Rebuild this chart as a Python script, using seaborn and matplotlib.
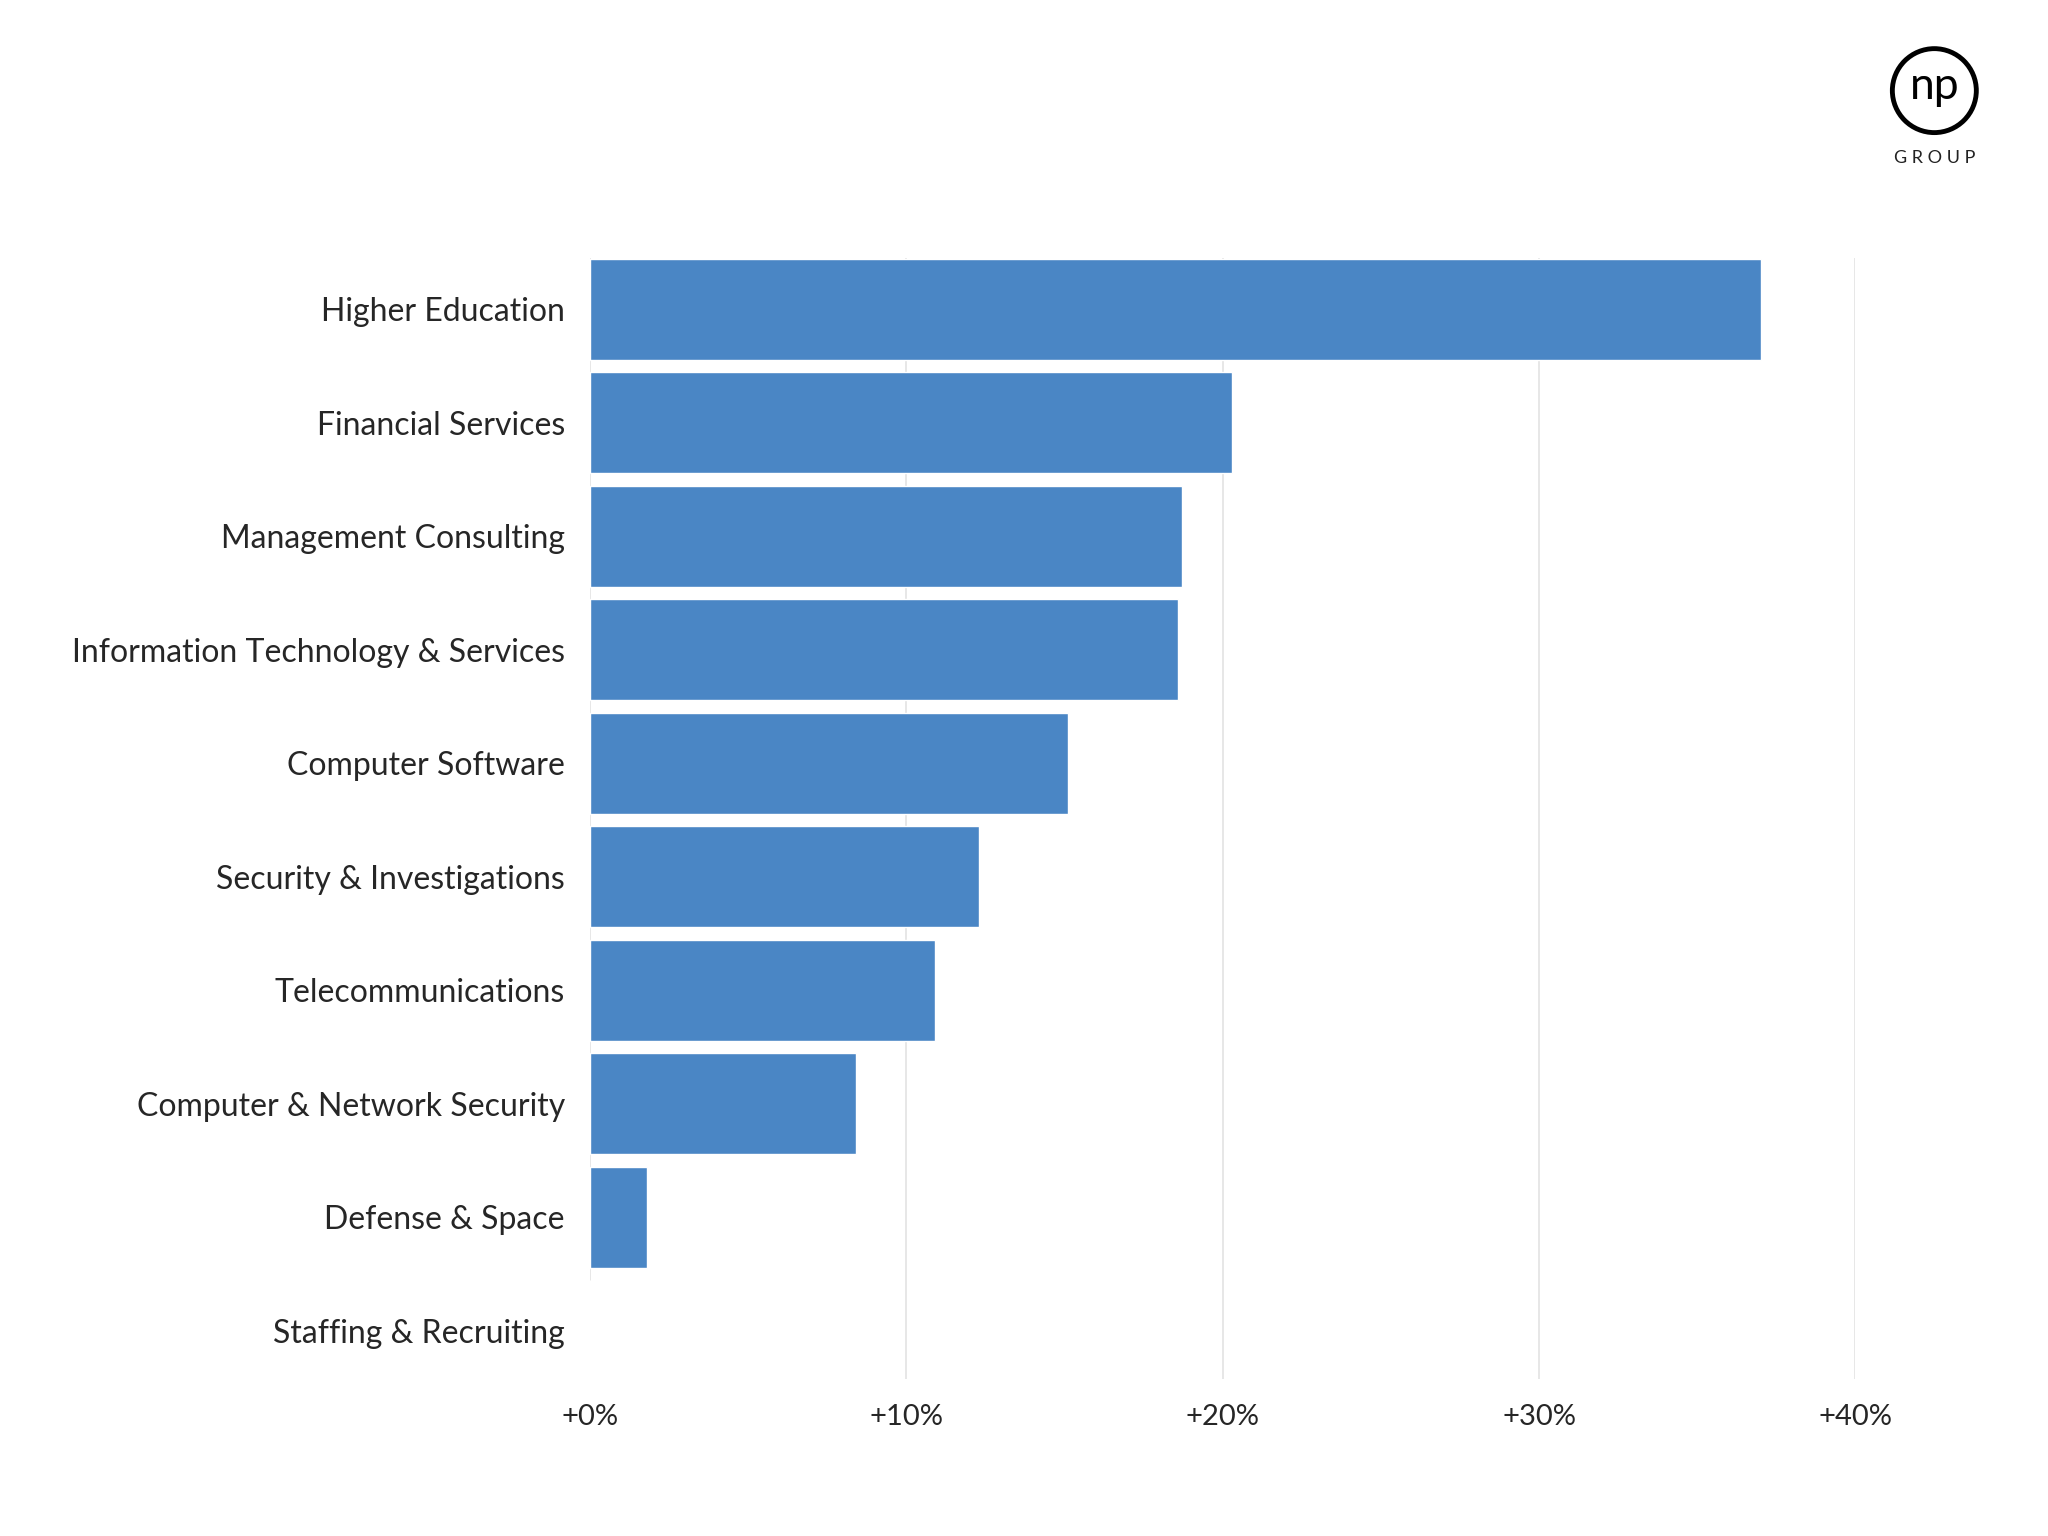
import matplotlib
matplotlib.use("Agg")
import matplotlib.pyplot as plt
import seaborn as sns
import pandas as pd
from matplotlib.patches import Ellipse

industries = ["Higher Education", "Financial Services", "Management Consulting",
              "Information Technology & Services", "Computer Software",
              "Security & Investigations", "Telecommunications",
              "Computer & Network Security", "Defense & Space", "Staffing & Recruiting"]
growth = [37.0, 20.3, 18.7, 18.6, 15.1, 12.3, 10.9, 8.4, 1.8, 0.0]
ticks = [0, 10, 20, 30, 40]
tick_labels = ["+0%", "+10%", "+20%", "+30%", "+40%"]

df = pd.DataFrame({"industry": industries, "growth": growth})

sns.set_theme(style="white")
plt.rcParams["font.family"] = ["Lato", "DejaVu Sans"]

fig = plt.figure(figsize=(20.48, 15.36), dpi=100)
ax = fig.add_axes([0.288, 0.102, 0.618, 0.730])
sns.barplot(data=df, x="growth", y="industry", color="#4a86c5", saturation=1,
            width=0.89, ax=ax, zorder=3)
ax.set_xlim(0, 40)
ax.set_ylim(9.43, -0.45)
ax.set_xticks(ticks)
ax.set_xticklabels(tick_labels, fontsize=21)
ax.tick_params(axis="y", labelsize=23, pad=18, length=0)
ax.tick_params(axis="x", pad=18, length=0)
ax.set_xlabel("")
ax.set_ylabel("")
ax.grid(axis="x", color="#e3e3e3", linewidth=1.2, zorder=0)
for s in ax.spines.values():
    s.set_visible(False)

# logo
r = 0.0205
c = Ellipse((0.9445, 0.941), 2 * r, 2 * r * 2048 / 1536, transform=fig.transFigure,
            fill=False, edgecolor="black", linewidth=3.5)
fig.patches.append(c)
fig.text(0.9445, 0.944, "np", ha="center", va="center", fontsize=32, color="black")
fig.text(0.9445, 0.897, "G R O U P", ha="center", va="center", fontsize=13, color="#222222")

fig.savefig("out.png", dpi=100, facecolor="white")
